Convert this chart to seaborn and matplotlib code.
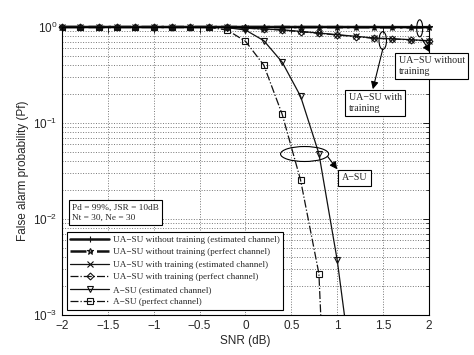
import numpy as np
import pandas as pd
import matplotlib
matplotlib.use("Agg")
import matplotlib.pyplot as plt
import seaborn as sns
from matplotlib.patches import Ellipse

# SNR grid (dB)
snr = [-2.0, -1.8, -1.6, -1.4, -1.2, -1.0, -0.8, -0.6, -0.4, -0.2, 0.0,
       0.2, 0.4, 0.6, 0.8, 1.0, 1.2, 1.4, 1.6, 1.8, 2.0]

# false alarm probability
ua_notrain_est = [1.0, 1.0, 1.0, 1.0, 1.0, 1.0, 1.0, 1.0, 1.0, 1.0, 1.0,
                  1.0, 1.0, 1.0, 1.0, 1.0, 0.999, 0.999, 0.998, 0.997, 0.996]
ua_notrain_perf = [1.0, 1.0, 1.0, 1.0, 1.0, 1.0, 1.0, 1.0, 1.0, 1.0, 0.999,
                   0.999, 0.998, 0.998, 0.997, 0.996, 0.995, 0.994, 0.993, 0.992, 0.99]
ua_train_est = [1.0, 1.0, 1.0, 1.0, 1.0, 1.0, 1.0, 1.0, 0.998, 0.992, 0.978,
                0.952, 0.935, 0.90, 0.865, 0.832, 0.80, 0.768, 0.755, 0.738, 0.72]
ua_train_perf = [1.0, 1.0, 1.0, 1.0, 1.0, 1.0, 1.0, 1.0, 0.997, 0.989, 0.973,
                 0.946, 0.931, 0.893, 0.859, 0.826, 0.794, 0.762, 0.750, 0.733, 0.715]
asu_est = [1.0, 1.0, 1.0, 1.0, 1.0, 1.0, 1.0, 1.0, 0.995, 0.985, 0.93,
           0.72, 0.43, 0.19, 0.048, 0.0037, 0.00013]
asu_perf = [1.0, 1.0, 1.0, 1.0, 1.0, 1.0, 1.0, 0.998, 0.99, 0.93, 0.71,
            0.40, 0.123, 0.0255, 0.0027, 1.3e-7]

labels = ["UA\u2212SU without training (estimated channel)",
          "UA\u2212SU without training (perfect channel)",
          "UA\u2212SU with training (estimated channel)",
          "UA\u2212SU with training (perfect channel)",
          "A\u2212SU (estimated channel)",
          "A\u2212SU (perfect channel)"]

sns.set_style("white")
plt.rcParams['font.family'] = ['Liberation Sans', 'DejaVu Sans']
plt.rcParams['mathtext.default'] = 'regular'
plt.rcParams['xtick.direction'] = 'in'
plt.rcParams['ytick.direction'] = 'in'

fig = plt.figure(figsize=(4.74, 3.55), dpi=100)
ax = fig.add_axes([62 / 474, 1 - 315 / 355, 367 / 474, 288 / 355])

ink = '#111111'
series = [
    (asu_est, 'v', '-', 0.9, True),
    (asu_perf, 's', '-.', 0.9, True),
    (ua_train_est, 'x', '-', 0.9, False),
    (ua_train_perf, 'D', '-.', 0.9, False),
    (ua_notrain_est, '+', '-', 1.8, False),
    (ua_notrain_perf, '*', '-.', 1.8, False),
]
order = [4, 5, 2, 3, 0, 1]
handles = {}
for i, (vals, mk, ls, lw, clip) in enumerate(series):
    df = pd.DataFrame({'snr': snr[:len(vals)], 'pf': vals})
    ms = 3.5 if mk == 'D' else 4.6
    sns.lineplot(data=df, x='snr', y='pf', ax=ax, color=ink, marker=mk,
                 linestyle=ls, linewidth=lw, markersize=ms,
                 markerfacecolor='none', markeredgecolor=ink,
                 markeredgewidth=0.8, clip_on=clip, label=labels[order[i]],
                 legend=False)
    handles[order[i]] = ax.lines[-1]

ax.set_yscale('log')
ax.set_xlim(-2, 2)
ax.set_ylim(1e-3, 1)
ax.set_xticks([-2, -1.5, -1, -0.5, 0, 0.5, 1, 1.5, 2])
ax.set_xticklabels(['\u22122', '\u22121.5', '\u22121', '\u22120.5', '0',
                    '0.5', '1', '1.5', '2'])
ax.tick_params(which='both', top=True, right=True, labelsize=8.5, color='k')
ax.tick_params(which='major', length=4, width=0.6)
ax.tick_params(which='minor', length=2, width=0.5)
ax.grid(True, which='major', linestyle=':', color='#777777', linewidth=0.7)
ax.grid(True, which='minor', axis='y', linestyle=':', color='#777777', linewidth=0.7)
for s in ax.spines.values():
    s.set_color('k')
    s.set_linewidth(0.8)
ax.set_xlabel('SNR (dB)', fontsize=8.5, labelpad=2)
ax.set_ylabel('False alarm probability (Pf)', fontsize=8.5, labelpad=3)

serif = ['Liberation Serif', 'DejaVu Serif']
leg = ax.legend([handles[k] for k in range(6)], labels, loc='lower left',
                bbox_to_anchor=(0.013, 0.017), borderaxespad=0, fancybox=False,
                edgecolor='k', framealpha=1, handlelength=4.2, handletextpad=0.4,
                labelspacing=0.45, borderpad=0.4, numpoints=1,
                prop={'family': serif, 'size': 6.6})
leg.get_frame().set_linewidth(0.8)

ax.text(0.027, 0.356, 'Pd = 99%, JSR = 10dB\nNt = 30, Ne = 30', transform=ax.transAxes,
        ha='left', va='center', family=serif, fontsize=6.7, linespacing=1.3,
        bbox=dict(boxstyle='square,pad=0.35', fc='white', ec='k', lw=0.8))

box = dict(boxstyle='square,pad=0.35', fc='white', ec='k', lw=0.8)
ax.text(0.917, 0.865, 'UA\u2212SU without\ntraining', transform=ax.transAxes,
        ha='left', va='center', family=serif, fontsize=7.2, linespacing=1.2,
        bbox=box, clip_on=False)
ax.text(0.781, 0.736, 'UA\u2212SU with\ntraining', transform=ax.transAxes,
        ha='left', va='center', family=serif, fontsize=7.2, linespacing=1.2,
        bbox=box)
ax.text(0.762, 0.476, 'A\u2212SU', transform=ax.transAxes,
        ha='left', va='center', family=serif, fontsize=7.2, bbox=box)

for cx, cy, w, h in [(0.9747, 0.9955, 0.0163, 0.059),
                     (0.874, 0.953, 0.0204, 0.0615),
                     (0.661, 0.559, 0.131, 0.052)]:
    ax.add_patch(Ellipse((cx, cy), w, h, transform=ax.transAxes, fill=False,
                         ec='k', lw=0.8, clip_on=False))

for start, head in [((0.980, 0.961), (1.003, 0.912)),
                    ((0.874, 0.923), (0.847, 0.784)),
                    ((0.724, 0.550), (0.750, 0.506))]:
    ax.annotate('', xy=head, xytext=start, xycoords='axes fraction',
                textcoords='axes fraction', annotation_clip=False,
                arrowprops=dict(arrowstyle='-|>', color='k', lw=0.8,
                                mutation_scale=11, shrinkA=0, shrinkB=0))

fig.savefig('out.png', dpi=100)
